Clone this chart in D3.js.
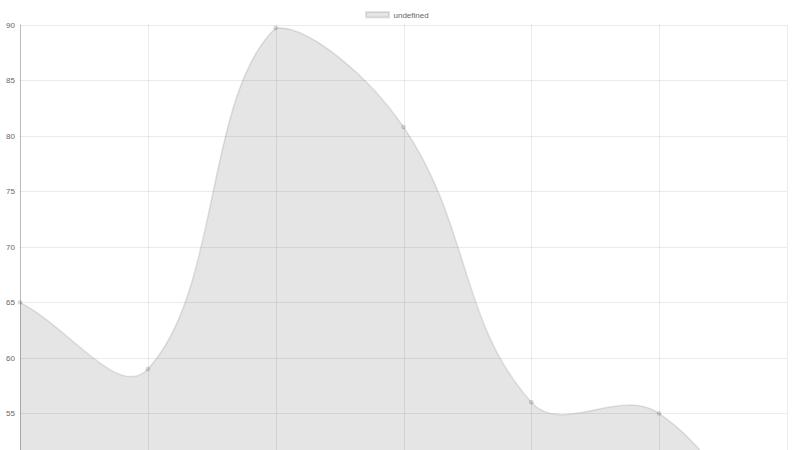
<!DOCTYPE html>
<html lang="en">
  <head>
    <meta charset="UTF-8" />
    <script src="https://cdn.jsdelivr.net/npm/d3@7"></script>
    <title>Line chart</title>
    <style>
      html, body {
        margin: 0;
        padding: 0;
        overflow: hidden;
        background: #fff;
      }
      text {
        font-family: "Liberation Sans", Arial, sans-serif;
        font-size: 8px;
        fill: #666;
      }
    </style>
  </head>
  <body>
    <script>
      // ---------- data ----------
      const labels = ["January", "February", "March", "April", "May", "June", "July"];
      const values = [65, 59, 89.7, 80.8, 56, 55, 40];
      const yTicks = [40, 45, 50, 55, 60, 65, 70, 75, 80, 85, 90];
      const seriesName = "undefined";

      // ---------- layout ----------
      // the canvas is taller than the window, only the top part is seen
      const width = 800;
      const height = 610;
      const area = { left: 20, right: 787, top: 24.7, bottom: 580 };

      const x = d3.scalePoint().domain(labels).range([area.left, area.right]);
      const y = d3.scaleLinear().domain([40, 90]).range([area.bottom, area.top]);

      const svg = d3
        .select("body")
        .append("svg")
        .attr("width", width)
        .attr("height", height);

      // grid lines
      svg
        .append("g")
        .selectAll("line")
        .data(yTicks)
        .join("line")
        .attr("x1", area.left)
        .attr("x2", area.right)
        .attr("y1", (d) => Math.round(y(d)) + 0.5)
        .attr("y2", (d) => Math.round(y(d)) + 0.5)
        .attr("stroke", "rgba(0,0,0,0.08)");

      svg
        .append("g")
        .selectAll("line")
        .data(labels)
        .join("line")
        .attr("x1", (d) => Math.round(x(d)) + 0.5)
        .attr("x2", (d) => Math.round(x(d)) + 0.5)
        .attr("y1", area.top)
        .attr("y2", area.bottom)
        .attr("stroke", "rgba(0,0,0,0.08)");

      // y axis border
      svg
        .append("line")
        .attr("x1", area.left + 0.5)
        .attr("x2", area.left + 0.5)
        .attr("y1", area.top)
        .attr("y2", area.bottom)
        .attr("stroke", "rgba(0,0,0,0.2)");

      // tick labels
      svg
        .append("g")
        .selectAll("text")
        .data(yTicks)
        .join("text")
        .attr("x", 15)
        .attr("y", (d) => y(d) + 3)
        .attr("text-anchor", "end")
        .text((d) => d);

      svg
        .append("g")
        .selectAll("text")
        .data(labels)
        .join("text")
        .attr("x", (d) => x(d))
        .attr("y", area.bottom + 14)
        .attr("text-anchor", "middle")
        .text((d) => d);

      // ---------- spline like chart.js (tension 0.4) ----------
      const tension = 0.4;
      const pts = values.map((v, i) => ({ x: x(labels[i]), y: y(v) }));
      const clampX = (v) => Math.max(area.left, Math.min(area.right, v));
      const clampY = (v) => Math.max(area.top, Math.min(area.bottom, v));

      pts.forEach((p, i) => {
        const prev = pts[Math.max(i - 1, 0)];
        const next = pts[Math.min(i + 1, pts.length - 1)];
        const d01 = Math.hypot(p.x - prev.x, p.y - prev.y);
        const d12 = Math.hypot(next.x - p.x, next.y - p.y);
        let s01 = d01 / (d01 + d12);
        let s12 = d12 / (d01 + d12);
        if (isNaN(s01)) s01 = 0;
        if (isNaN(s12)) s12 = 0;
        const fa = tension * s01;
        const fb = tension * s12;
        p.cpPrevX = clampX(p.x - fa * (next.x - prev.x));
        p.cpPrevY = clampY(p.y - fa * (next.y - prev.y));
        p.cpNextX = clampX(p.x + fb * (next.x - prev.x));
        p.cpNextY = clampY(p.y + fb * (next.y - prev.y));
      });

      function linePath(closed) {
        const path = d3.path();
        path.moveTo(pts[0].x, pts[0].y);
        for (let i = 1; i < pts.length; i++) {
          const a = pts[i - 1];
          const b = pts[i];
          path.bezierCurveTo(a.cpNextX, a.cpNextY, b.cpPrevX, b.cpPrevY, b.x, b.y);
        }
        if (closed) {
          path.lineTo(pts[pts.length - 1].x, area.bottom);
          path.lineTo(pts[0].x, area.bottom);
          path.closePath();
        }
        return path.toString();
      }

      svg
        .append("path")
        .attr("d", linePath(true))
        .attr("fill", "rgba(0,0,0,0.1)");

      svg
        .append("path")
        .attr("d", linePath(false))
        .attr("fill", "none")
        .attr("stroke", "rgba(0,0,0,0.1)")
        .attr("stroke-width", 1.6);

      svg
        .append("g")
        .selectAll("circle")
        .data(pts)
        .join("circle")
        .attr("cx", (d) => d.x)
        .attr("cy", (d) => d.y)
        .attr("r", 2)
        .attr("fill", "rgba(0,0,0,0.1)")
        .attr("stroke", "rgba(0,0,0,0.1)")
        .attr("stroke-width", 1);

      // ---------- legend ----------
      const legend = svg.append("g");
      legend
        .append("rect")
        .attr("x", 366)
        .attr("y", 12)
        .attr("width", 23)
        .attr("height", 5.5)
        .attr("fill", "rgba(0,0,0,0.1)")
        .attr("stroke", "rgba(0,0,0,0.1)")
        .attr("stroke-width", 2);
      legend
        .append("text")
        .attr("x", 393.5)
        .attr("y", 17.5)
        .text(seriesName);
    </script>
  </body>
</html>
